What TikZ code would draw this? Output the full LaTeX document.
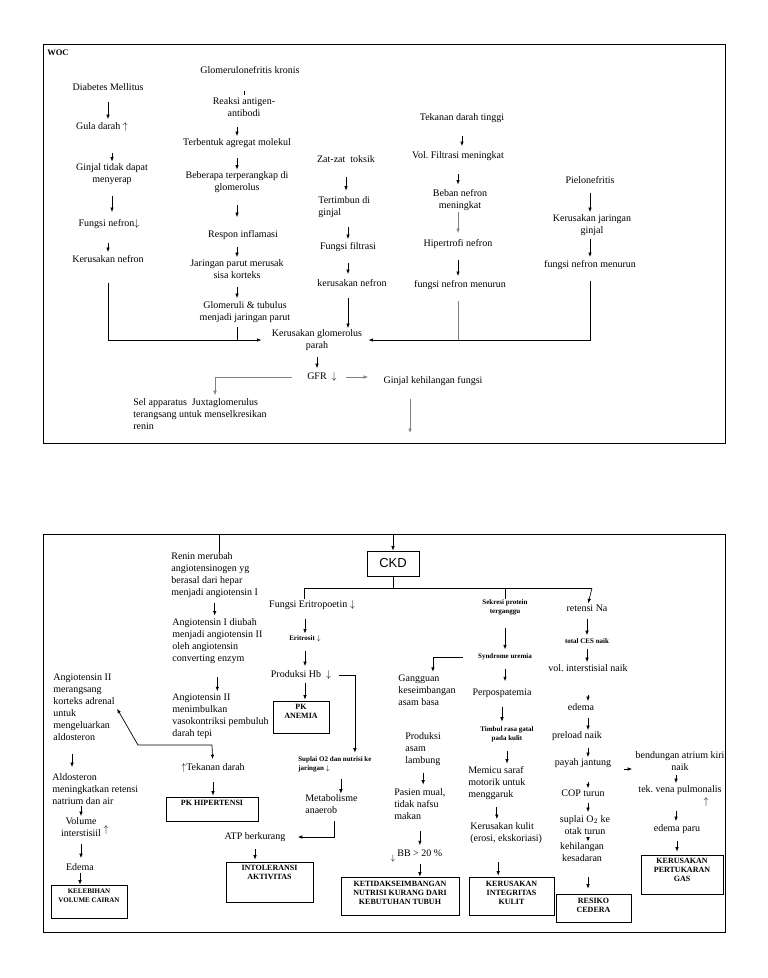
\documentclass[tikz,border=0pt]{standalone}
\usepackage{fontspec}
\setmainfont{Liberation Serif}
\setsansfont{Liberation Sans}
\usetikzlibrary{arrows.meta,positioning}

\begin{document}
\begin{tikzpicture}[x=1pt, y=-1pt, line width=0.7pt,
  txt/.style={font=\fontsize{10}{12}\selectfont, inner sep=1pt, align=center},
  ltxt/.style={txt, align=left, anchor=west},
  sml/.style={font=\fontsize{7}{8.5}\selectfont\bfseries, inner sep=1pt, align=center},
  lsml/.style={sml, align=left, anchor=west},
  dx/.style={draw, inner sep=0pt},
  dxtxt/.style={font=\fontsize{8}{9.2}\selectfont\bfseries, inner sep=0pt, align=center, anchor=north},
  arr/.style={-{Latex[length=4.5pt,width=3.5pt]}, shorten <=5pt, shorten >=2pt},
  gry/.style={draw=black!50}]
\useasboundingbox (0,0) rectangle (768,978);
\fill [white] (0,0) rectangle (768,978);
%%%%%%%%% WOC
\draw [line width=1pt] (43,44) rectangle (725,443);
\node [txt, anchor=west, font=\fontsize{8.5}{10}\selectfont\bfseries] (woc) at (46,53) {WOC};
% Diabetes
\node [txt] (dm) at (108,87) {Diabetes Mellitus};
\node [txt] (gd) at (102,127) {Gula darah $\uparrow$};
\node [txt] (gt) at (112,174.5) {Ginjal tidak dapat\\menyerap};
\node [txt] (fn) at (109,224) {Fungsi nefron$\downarrow$};
\node [txt] (kn) at (108,259) {Kerusakan nefron};
\draw [arr, shorten <=10pt] (dm) -- (dm |- gd.north);
\draw [arr, shorten <=20pt, shorten >=1pt] (gd.south -| gt) -- (gt);
\draw [arr, shorten <=10pt, shorten >=6pt] (gt) -- (gt |- fn.north);
\draw [arr, shorten <=13pt] (fn.south -| kn) -- (kn);
% Glomerulonefritis
\node [txt] (gk) at (250,70) {Glomerulonefritis kronis};
\node [txt] (ra) at (244,107.5) {Reaksi antigen-\\antibodi};
\node [txt] (ta) at (237,143) {Terbentuk agregat molekul};
\node [txt] (bt) at (237,182.5) {Beberapa terperangkap di\\glomerolus};
\node [txt] (ri) at (243,235) {Respon inflamasi};
\node [txt] (jp) at (237,269) {Jaringan parut merusak\\sisa korteks};
\node [txt] (gtb) at (245,312) {Glomeruli \& tubulus\\menjadi jaringan parut};
\draw [shorten <=16pt, shorten >=2pt] (gk.south -| ra) -- (ra);
\draw [arr, shorten <=9pt, shorten >=1pt] (ra.south -| ta) -- (ta);
\draw [arr, shorten <=9pt, shorten >=1pt] (ta) -- (ta |- bt.north);
\draw [arr, shorten <=11pt, shorten >=12pt] (bt) -- (bt |- ri.north);
\draw [arr, shorten <=6pt, shorten >=1pt] (ri.south -| jp) -- (jp);
\draw [arr, shorten <=7pt, shorten >=2pt] (jp) -- (jp |- gtb.north);
% Zat-zat toksik
\node [txt] (zt) at (346,159) {Zat-zat\ \ toksik};
\node [ltxt] (tg) at (317,207.5) {Tertimbun di\\ginjal};
\node [txt] (ff) at (348,247) {Fungsi filtrasi};
\node [txt] (kn2) at (352,283) {kerusakan nefron};
\draw [arr, shorten <=13pt, shorten >=5pt] (zt) -- (zt |- tg.north);
\draw [arr, shorten <=8pt, shorten >=2pt] (tg.south -| ff) -- (ff);
\draw [arr, shorten <=10pt, shorten >=4pt] (ff) -- (ff |- kn2.north);
% Tekanan darah tinggi
\node [txt] (tdt) at (462,118) {Tekanan darah tinggi};
\node [txt] (vf) at (458,156) {Vol.\ Filtrasi meningkat};
\node [txt] (bn) at (460,200.5) {Beban nefron\\meningkat};
\node [txt] (hn) at (458,244) {Hipertrofi nefron};
\node [txt] (fn2) at (460,285) {fungsi nefron menurun};
\draw [arr, shorten <=12pt, shorten >=4pt] (tdt) -- (tdt |- vf.north);
\draw [arr, shorten <=12pt, shorten >=4pt] (vf) -- (vf |- bn.north);
\draw [arr, gry, shorten <=0pt, shorten >=5pt] (bn.south -| hn) -- (hn);
\draw [arr, shorten <=10pt, shorten >=3pt] (hn) -- (hn |- fn2.north);
% Pielonefritis
\node [txt] (pn) at (590,180) {Pielonefritis};
\node [txt] (kj) at (592,225) {Kerusakan jaringan\\ginjal};
\node [txt] (fn3) at (590,265) {fungsi nefron menurun};
\draw [arr, shorten <=8pt, shorten >=1pt] (pn) -- (pn |- kj.north);
\draw [arr, shorten <=2pt, shorten >=2pt] (kj.south -| fn3) -- (fn3);
%%%%%%%%%
\node [txt] (kg) at (317,340) {Kerusakan glomerolus\\parah};
\node [txt] (gfr) at (322,377) {GFR\ \ $\downarrow$};
\node [txt] (gkf) at (433,381) {Ginjal kehilangan fungsi};
\node [ltxt] (sel) at (132,414) {Sel apparatus\ \ Juxtaglomerulus\\terangsang untuk menselkresikan\\renin};
\coordinate (gkfend) at (410,433);
\draw [arr, shorten <=19pt, shorten >=9pt] (kn) |- (kg);
\draw [shorten <=3pt] ([xshift=-8pt]gtb.south) -- ([xshift=-8pt]gtb.south |- kg.west);
\draw [arr, shorten <=10pt, shorten >=0pt] ([xshift=-4pt]kn2.south) -- ([xshift=-4pt]kn2.south |- kg.north);
\draw [gry, shorten <=10pt] ([xshift=-2pt]fn2.south) -- ([xshift=-2pt]fn2.south |- kg.east);
\draw [arr, shorten <=10pt, shorten >=5pt] (fn3) |- (kg);
\draw [arr, shorten <=5pt, shorten >=3pt] (kg) -- (kg |- gfr.north);
\draw [arr, gry, shorten <=8pt, shorten >=14pt] (gfr.east) -- (gfr.east -| gkf.west);
\draw [arr, gry, shorten <=14pt, shorten >=2pt] (gfr.west) -| ([xshift=15pt]sel.north);
\draw [arr, gry, shorten <=12pt, shorten >=0pt] (gkf.south -| gkfend) -- (gkfend);
%%%%%%%%% CKD
\draw [line width=1pt] (43,534) rectangle (725,932);
\coordinate (rtop) at (219,534);
\coordinate (ckdtop) at (393,534);
\coordinate (busL) at (304,588);
\coordinate (busR) at (592,588);
\node [dx, font=\sffamily\fontsize{13}{15}\selectfont, minimum width=52pt, minimum height=25pt] (ckd) at (393,563.5) {CKD};
\draw [arr, shorten <=0pt, shorten >=0pt] (ckdtop) -- (ckd);
\draw (ckd) -- (ckd |- busL);
\draw (busL) -- (busR);
% renin
\node [ltxt] (ren) at (170,575.5) {Renin merubah\\angiotensinogen yg\\berasal dari hepar\\menjadi angiotensin I};
\node [ltxt] (a1) at (171,641.5) {Angiotensin I diubah\\menjadi angiotensin II\\oleh angiotensin\\converting enzym};
\node [ltxt] (a2v) at (171,716) {Angiotensin II\\menimbulkan\\vasokontriksi pembuluh\\darah tepi};
\node [txt] (td) at (213,768) {$\uparrow$Tekanan darah};
\node [dx, minimum width=92pt, minimum height=24pt] (hip) at (212,809) {};
\node [dxtxt] (hipt) at ([yshift=-3pt]hip.north) {PK HIPERTENSI};
\draw (rtop) -- (rtop |- ren.north);
\draw [arr, shorten <=4pt, shorten >=2pt] (ren) -- (ren |- a1.north);
\draw [arr, shorten <=12pt, shorten >=1pt] (a1) -- (a1 |- a2v.north);
\coordinate (aj) at (212,745);
\coordinate (ak) at (138,745);
\draw [arr, shorten <=0pt, shorten >=3pt] (aj) -- (td);
\draw [arr, shorten <=8pt, shorten >=1pt] (td) -- (td |- hip.north);
% aldosteron
\node [ltxt] (a2m) at (52,707) {Angiotensin II\\merangsang\\korteks adrenal\\untuk\\mengeluarkan\\aldosteron};
\node [ltxt] (ald) at (51,789) {Aldosteron\\meningkatkan retensi\\natrium dan air};
\node [txt] (vi) at (81,827) {Volume\\interstisiil};
\node [txt] (vup) at (106,830) {$\uparrow$};
\node [txt] (ed) at (80,867) {Edema};
\node [dx, minimum width=76pt, minimum height=33pt] (kvc) at (89,901.5) {};
\node [dxtxt, font=\fontsize{7}{9}\selectfont\bfseries] (kvct) at ([yshift=-4pt]kvc.north) {KELEBIHAN\\VOLUME CAIRAN};
\draw [arr, shorten <=0pt, shorten >=2pt] (aj) -- (ak) -- (a2m.east);
\draw [arr, shorten <=12pt, shorten >=5pt] ([xshift=-12pt]a2m.south) -- ([xshift=-12pt]a2m.south |- ald.north);
\draw [arr, shorten <=0pt, shorten >=0pt] (ald.south -| vi) -- (vi);
\draw [arr, shorten <=6pt, shorten >=4pt] (vi) -- (vi |- ed.north);
\draw [arr, shorten <=1pt, shorten >=0pt] (ed) -- (ed |- kvc.north);
% eritropoetin
\node [txt] (fe) at (312,605) {Fungsi Eritropoetin $\downarrow$};
\node [sml] (er) at (305,639) {Eritrosit $\downarrow$};
\node [txt] (phb) at (301,675) {Produksi Hb\ \ $\downarrow$};
\node [dx, minimum width=56pt, minimum height=32pt] (pka) at (301,717) {};
\node [dxtxt] (pkat) at ([yshift=-3pt]pka.north) {PK\\ANEMIA};
\node [lsml] (sup) at (297,764.5) {Suplai O2 dan nutrisi ke\\jaringan $\downarrow$};
\node [ltxt] (met) at (304,804.5) {Metabolisme\\anaerob};
\node [txt] (atp) at (255,837) {ATP berkurang};
\node [dx, minimum width=87pt, minimum height=40pt] (ia) at (269.5,882) {};
\node [dxtxt] (iat) at ([yshift=-3pt]ia.north) {INTOLERANSI\\AKTIVITAS};
\draw (busL) -- (busL |- fe.north);
\draw [arr, shorten <=8pt, shorten >=1pt] (fe.south -| er) -- (er);
\draw [arr, shorten <=8pt, shorten >=3pt] (er) -- (er |- phb.north);
\draw [arr, shorten <=2pt, shorten >=1pt] (phb.south -| er) -- (pka.north -| er);
\draw [arr, shorten <=7pt, shorten >=3pt] (phb.east) -| ([xshift=20pt]sup.north);
\draw [arr, shorten <=6pt, shorten >=0pt] ([xshift=6pt]sup.south) -- ([xshift=6pt]sup.south |- met.north);
\draw [arr, shorten <=6pt, shorten >=11pt] ([xshift=3pt]met.south) |- (atp);
\draw [arr, shorten <=6pt, shorten >=2pt] (atp) -- (atp |- ia.north);
% sekresi protein
\node [sml] (sp) at (505,607.5) {Sekresi protein\\terganggu};
\node [sml] (su) at (505,657) {Syndrome uremia};
\node [ltxt] (gg) at (397,690.5) {Gangguan\\keseimbangan\\asam basa};
\node [txt] (pp) at (502,693) {Perpospatemia};
\node [sml] (tr) at (507,734.5) {Timbul rasa gatal\\pada kulit};
\node [ltxt] (mm) at (467,783.5) {Memicu saraf\\motorik untuk\\menggaruk};
\node [ltxt] (kk) at (469,833) {Kerusakan kulit\\(erosi, ekskoriasi)};
\node [dx, minimum width=85pt, minimum height=38pt] (kik) at (511.5,896) {};
\node [dxtxt] (kikt) at ([yshift=-4pt]kik.north) {KERUSAKAN\\INTEGRITAS\\KULIT};
\draw (busL -| sp) -- (sp);
\draw [arr, shorten <=12pt, shorten >=3pt] (sp) -- (sp |- su.north);
\draw [arr, shorten <=14pt, shorten >=2pt] (su.west) -| ([xshift=6pt]gg.north);
\draw [arr, shorten <=7pt, shorten >=6pt] (su) -- (su |- pp.north);
\draw [arr, shorten <=8pt, shorten >=4pt] (pp) -- (pp |- tr.north);
\draw [arr, shorten <=8pt, shorten >=2pt] (tr) -- (tr |- mm.north);
\draw [arr, shorten <=6pt, shorten >=2pt] (mm) -- (mm |- kk.north);
\draw [arr, shorten <=17pt, shorten >=1pt] ([xshift=-8pt]kk.south) -- ([xshift=-8pt]kk.south |- kik.north);
% asam lambung
\node [ltxt] (pa) at (404,749) {Produksi\\asam\\lambung};
\node [ltxt] (pm) at (393,804.5) {Pasien mual,\\tidak nafsu\\makan};
\node [ltxt] (bb) at (396,853) {BB > 20 \%};
\node [txt, font=\fontsize{8}{9}\selectfont] (bbd) at (393,858) {$\downarrow$};
\node [dx, minimum width=118pt, minimum height=38pt] (kt) at (400,896) {};
\node [dxtxt] (ktt) at ([yshift=-4pt]kt.north) {KETIDAKSEIMBANGAN\\NUTRISI KURANG DARI\\KEBUTUHAN TUBUH};
\draw [arr, shorten <=6pt, shorten >=3pt] (pa) -- (pa |- pm.north);
\draw [arr, shorten <=10pt, shorten >=3pt] (pm) -- (pm |- bb.north);
\draw [arr, shorten <=6pt, shorten >=0pt] (bb.south -| pm) -- (kt.north -| pm);
% retensi Na
\node [txt] (rna) at (587,608) {retensi Na};
\node [sml] (ces) at (587,641) {total CES naik};
\node [txt] (vin) at (588,668) {vol.\ interstisial naik};
\node [txt] (ede) at (581,707) {edema};
\node [txt] (pl) at (577,736) {preload naik};
\node [txt] (pj) at (583,763) {payah jantung};
\node [txt] (cop) at (583,793) {COP turun};
\node [txt] (so) at (585,825) {suplai O$_2$ ke\\otak turun};
\node [txt] (kh) at (582,852.5) {kehilangan\\kesadaran};
\node [dx, minimum width=75pt, minimum height=28pt] (rc) at (593.5,908) {};
\node [dxtxt] (rct) at ([yshift=-4pt]rc.north) {RESIKO\\CEDERA};
\draw [arr, shorten <=0pt, shorten >=0pt] (busR) -- (rna);
\draw [arr, shorten <=6pt, shorten >=2pt] (rna) -- (rna |- ces.north);
\draw [arr, shorten <=4pt, shorten >=1pt] (ces) -- (ces |- vin.north);
\draw [arr, shorten <=22pt, shorten >=1pt] (vin) -- (vin |- ede.north);
\draw [arr, shorten <=6pt, shorten >=0pt] (ede.south -| vin) -- (pl.north -| vin);
\draw [arr, shorten <=6pt, shorten >=0pt] (pl.south -| vin) -- (pj.north -| vin);
\draw [arr, shorten <=13pt, shorten >=0pt] (pj.south -| vin) -- (cop.north -| vin);
\draw [arr, shorten <=5pt, shorten >=2pt] (cop.south -| vin) -- (so.north -| vin);
\draw [arr, shorten <=4pt, shorten >=0pt] (so.south -| vin) -- (kh.north -| vin);
\draw [arr, shorten <=14pt, shorten >=5pt] (kh.south -| vin) -- (rc.north -| vin);
% bendungan
\node [txt] (bak) at (680,761) {bendungan atrium kiri\\naik};
\node [txt] (tvp) at (680,790) {tek.\ vena pulmonalis};
\node [txt] (tvup) at (706,802) {$\uparrow$};
\node [txt] (ep) at (677,829) {edema paru};
\node [dx, minimum width=82pt, minimum height=39pt] (kpg) at (682,874.5) {};
\node [dxtxt] (kpgt) at ([yshift=-3pt]kpg.north) {KERUSAKAN\\PERTUKARAN\\GAS};
\draw [arr, shorten <=11pt, shorten >=2pt] ([yshift=-6pt]pj.east) -- ([yshift=-6pt]pj.east -| bak.west);
\draw [arr, shorten <=3pt, shorten >=1pt] ([xshift=-4pt]bak.south) -- ([xshift=-4pt]bak.south |- tvp.north);
\draw [arr, shorten <=15pt, shorten >=2pt] ([xshift=-4pt]tvp.south) -- ([xshift=-4pt]tvp.south |- ep.north);
\draw [arr, shorten <=6pt, shorten >=3pt] (ep) -- (ep |- kpg.north);
\end{tikzpicture}
\end{document}
